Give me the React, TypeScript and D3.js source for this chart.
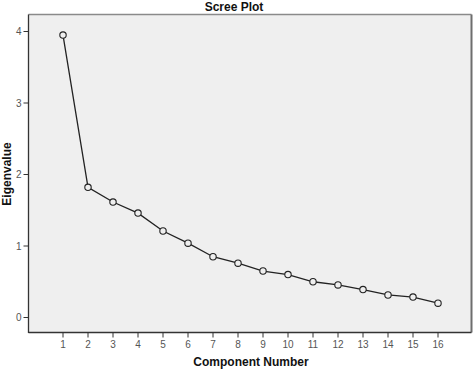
import React from "react";
import * as d3 from "d3";

const components = [1, 2, 3, 4, 5, 6, 7, 8, 9, 10, 11, 12, 13, 14, 15, 16];
const eigenvalues = [3.95, 1.82, 1.615, 1.46, 1.21, 1.04, 0.85, 0.76, 0.65, 0.6, 0.5, 0.455, 0.39, 0.315, 0.285, 0.2];
const yTicks = [0, 1, 2, 3, 4];
const title = "Scree Plot";
const xLabel = "Component Number";
const yLabel = "Eigenvalue";

const W = 474, H = 383;
const left = 28.5, right = 471.5, top = 14.5, bottom = 332.5;

export default function App() {
  const x = d3.scaleLinear().domain([1, 16]).range([63, 438]);
  const y = d3.scaleLinear().domain([0, 4]).range([317.5, 31.5]);
  const line = d3.line<number>().x((_, i) => x(components[i])).y((d) => y(d));
  const font = "'Liberation Sans', Arial, sans-serif";
  return (
    <svg width={W} height={H} style={{ position: "absolute", left: 0, top: 0, background: "#fff" }}>
      <rect x={left} y={top} width={right - left} height={bottom - top} fill="#efefef" />
      <line x1={left} x2={right} y1={top} y2={top} stroke="#8a8a8a" strokeWidth={1.5} />
      <line x1={right} x2={right} y1={top} y2={bottom} stroke="#6e6e6e" strokeWidth={2} />
      <line x1={left} x2={left} y1={top} y2={bottom + 0.5} stroke="#333" strokeWidth={1.3} />
      <line x1={left} x2={right} y1={bottom} y2={bottom} stroke="#333" strokeWidth={1.3} />
      {yTicks.map((t) => (
        <g key={t}>
          <line x1={left - 5} x2={left} y1={y(t)} y2={y(t)} stroke="#333" />
          <text x={left - 7} y={y(t) + 3.5} textAnchor="end" fontSize={10} fill="#555" fontFamily={font}>{t}</text>
        </g>
      ))}
      {components.map((c) => (
        <g key={c}>
          <line x1={x(c)} x2={x(c)} y1={bottom} y2={bottom + 5} stroke="#333" />
          <text x={x(c)} y={bottom + 15} textAnchor="middle" fontSize={10} fill="#555" fontFamily={font}>{c}</text>
        </g>
      ))}
      <path d={line(eigenvalues) || ""} fill="none" stroke="#222" strokeWidth={1.3} />
      {eigenvalues.map((v, i) => (
        <circle key={i} cx={x(components[i])} cy={y(v)} r={3.2} fill="#efefef" stroke="#222" strokeWidth={1.1} />
      ))}
      <text x={234} y={10.5} textAnchor="middle" fontSize={12} fontWeight="bold" fontFamily={font} fill="#111">{title}</text>
      <text x={251} y={366} textAnchor="middle" fontSize={12} fontWeight="bold" fontFamily={font} fill="#111">{xLabel}</text>
      <text transform={`translate(11,174) rotate(-90)`} textAnchor="middle" fontSize={12} fontWeight="bold" fontFamily={font} fill="#111">{yLabel}</text>
    </svg>
  );
}
